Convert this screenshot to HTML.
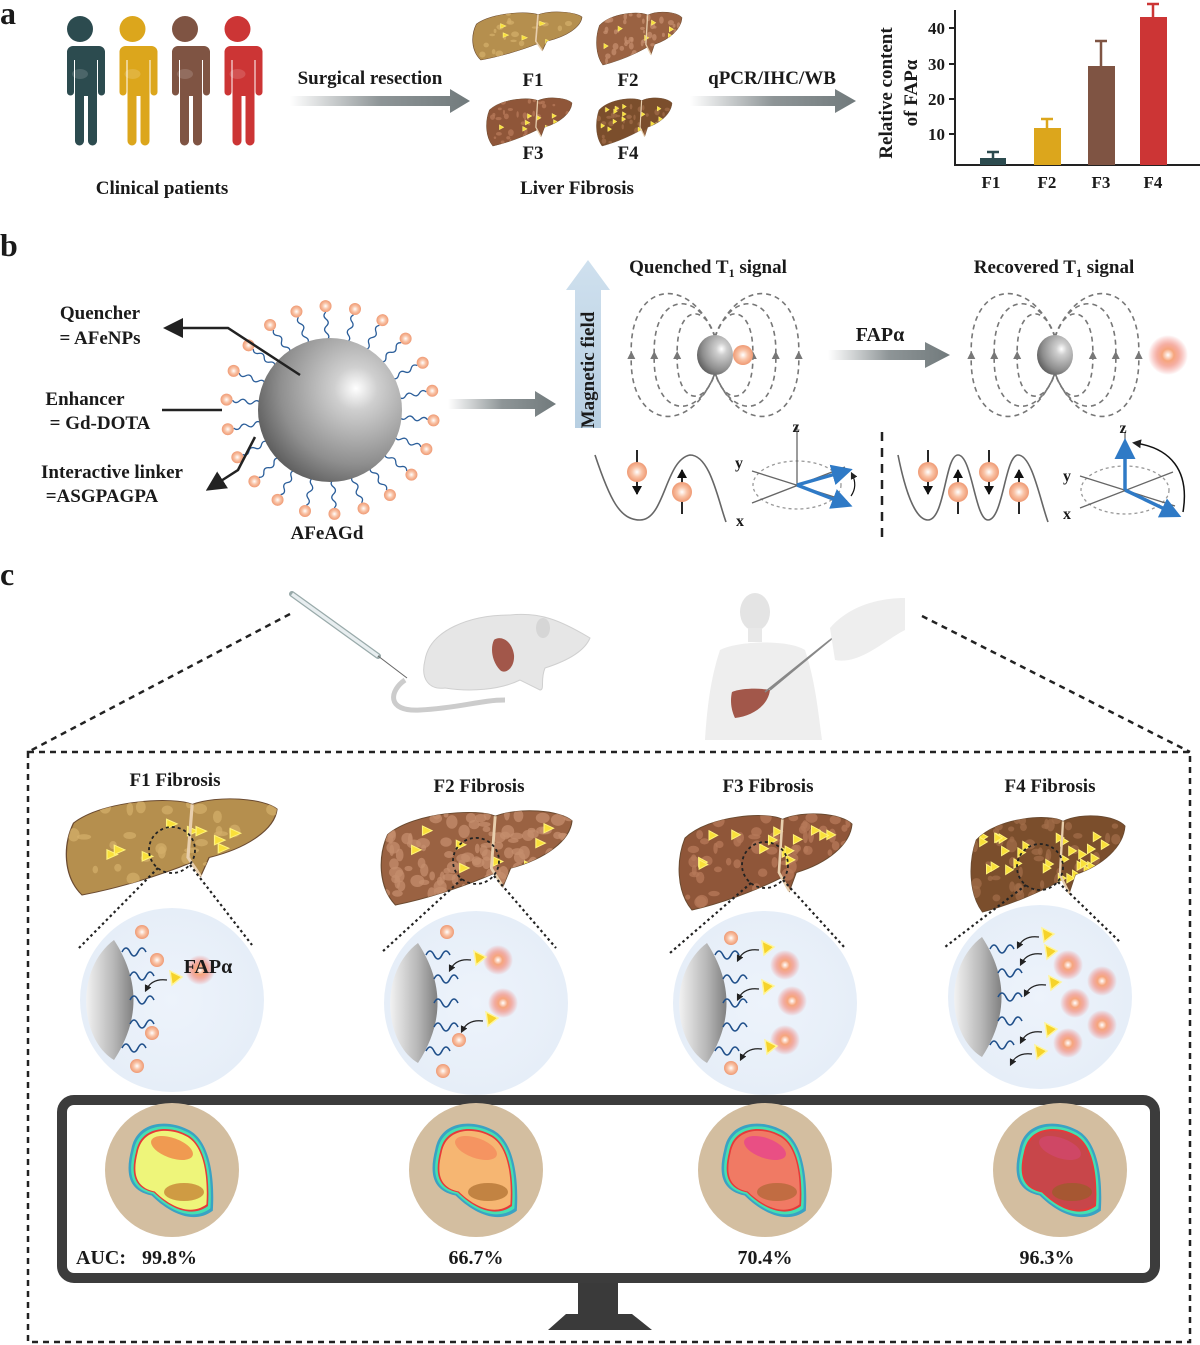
<!DOCTYPE html>
<html><head><meta charset="utf-8">
<style>
html,body{margin:0;padding:0;background:#fff;}
svg{display:block;}
text{font-family:"Liberation Serif",serif;font-weight:bold;fill:#1a1a1a;}
</style></head>
<body>
<svg id="s" width="1200" height="1345" viewBox="0 0 1200 1345" xmlns="http://www.w3.org/2000/svg">
<defs id="defs">
<radialGradient id="sph" cx="0.68" cy="0.35" r="0.75"><stop offset="0" stop-color="#ffffff"/><stop offset="0.2" stop-color="#cfcfcf"/><stop offset="0.7" stop-color="#8f8f8f"/><stop offset="1" stop-color="#5a5a5a"/></radialGradient>
<radialGradient id="bead" cx="0.5" cy="0.5" r="0.5"><stop offset="0" stop-color="#fff"/><stop offset="0.5" stop-color="#f9c3a6"/><stop offset="1" stop-color="#ef9a74"/></radialGradient>
<radialGradient id="glow" cx="0.5" cy="0.5" r="0.5"><stop offset="0" stop-color="#fff"/><stop offset="0.3" stop-color="#f6a57c"/><stop offset="0.55" stop-color="#f39a8a" stop-opacity="0.8"/><stop offset="1" stop-color="#f08080" stop-opacity="0"/></radialGradient>
<linearGradient id="arr" x1="0" x2="1"><stop offset="0" stop-color="#ffffff"/><stop offset="0.5" stop-color="#8e9597"/><stop offset="1" stop-color="#717a7c"/></linearGradient>
<linearGradient id="lens" x1="0" x2="1"><stop offset="0" stop-color="#f2f2f2"/><stop offset="0.6" stop-color="#b5b5b5"/><stop offset="1" stop-color="#808080"/></linearGradient>
<linearGradient id="mf" x1="0" y1="1" x2="0" y2="0"><stop offset="0" stop-color="#b7cfe2"/><stop offset="1" stop-color="#cfe0ee"/></linearGradient>
<radialGradient id="bgc"><stop offset="0" stop-color="#edf3fb"/><stop offset="1" stop-color="#e6eef8"/></radialGradient>
<marker id="ah" markerWidth="8" markerHeight="8" refX="6" refY="4" orient="auto"><path d="M0,0 L8,4 L0,8 Z" fill="#222"/></marker>
<marker id="ahb" markerWidth="6" markerHeight="6" refX="4" refY="3" orient="auto"><path d="M0,0 L6,3 L0,6 Z" fill="#2f7ac6"/></marker>
<marker id="ahs" markerWidth="6" markerHeight="6" refX="4" refY="3" orient="auto"><path d="M0,0 L6,3 L0,6 Z" fill="#222"/></marker>
<clipPath id="lclip"><path d="M4,18 C18,3 52,1 60,6 C72,0 94,2 100,9 C99,22 86,34 68,40 L64,52 L60,43 C44,52 24,60 8,64 C-1,52 -1,32 4,18 Z"/></clipPath>
</defs>

<!-- ===== a ===== -->
<text x="0" y="24" font-size="32">a</text>
<g id="people"></g>
<text x="162" y="194" font-size="19" text-anchor="middle">Clinical patients</text>
<text x="370" y="84" font-size="19" text-anchor="middle">Surgical resection</text>
<path d="M290,96 L450,96 L450,89 L470,101 L450,113 L450,106 L290,106 Z" fill="url(#arr)"/>
<g id="livA"></g>
<text x="533" y="86" font-size="19" text-anchor="middle">F1</text>
<text x="628" y="86" font-size="19" text-anchor="middle">F2</text>
<text x="533" y="159" font-size="19" text-anchor="middle">F3</text>
<text x="628" y="159" font-size="19" text-anchor="middle">F4</text>
<text x="577" y="194" font-size="19" text-anchor="middle">Liver Fibrosis</text>
<text x="772" y="84" font-size="19" text-anchor="middle">qPCR/IHC/WB</text>
<path d="M690,96 L835,96 L835,89 L856,101 L835,113 L835,106 L690,106 Z" fill="url(#arr)"/>
<g stroke="#222" stroke-width="2" fill="none">
<path d="M955,10 L955,165 L1200,165"/>
<path d="M955,28 h-6 M955,64 h-6 M955,99 h-6 M955,134 h-6"/>
</g>
<g font-size="17" text-anchor="end">
<text x="945" y="34">40</text><text x="945" y="70">30</text><text x="945" y="105">20</text><text x="945" y="140">10</text>
</g>
<text transform="translate(892,93) rotate(-90)" font-size="19" text-anchor="middle">Relative content</text>
<text transform="translate(917,93) rotate(-90)" font-size="19" text-anchor="middle">of  FAPα</text>
<g stroke-width="2.5">
<path d="M993,158 V152 M987,152 h12" stroke="#2c4b4f"/>
<path d="M1047,128 V119 M1041,119 h12" stroke="#dca61c"/>
<path d="M1101,66 V41 M1095,41 h12" stroke="#7f5443"/>
<path d="M1153,17 V4 M1147,4 h12" stroke="#cc3535"/>
</g>
<rect x="980" y="158" width="26" height="7" fill="#2c4b4f"/>
<rect x="1034" y="128" width="27" height="37" fill="#dca61c"/>
<rect x="1088" y="66" width="27" height="99" fill="#7f5443"/>
<rect x="1140" y="17" width="27" height="148" fill="#cc3535"/>
<g font-size="17" text-anchor="middle">
<text x="991" y="188">F1</text><text x="1047" y="188">F2</text><text x="1101" y="188">F3</text><text x="1153" y="188">F4</text>
</g>

<!-- ===== b ===== -->
<text x="0" y="256" font-size="32">b</text>
<g id="nano"></g>
<text x="100" y="319" font-size="19" text-anchor="middle">Quencher</text>
<text x="100" y="344" font-size="19" text-anchor="middle">= AFeNPs</text>
<text x="85" y="405" font-size="19" text-anchor="middle">Enhancer</text>
<text x="100" y="429" font-size="19" text-anchor="middle">= Gd-DOTA</text>
<text x="112" y="478" font-size="19" text-anchor="middle">Interactive linker</text>
<text x="102" y="502" font-size="19" text-anchor="middle">=ASGPAGPA</text>
<text x="327" y="539" font-size="19" text-anchor="middle">AFeAGd</text>
<g stroke="#222" stroke-width="2.5" fill="none">
<path d="M300,375 L228,328 L168,328" marker-end="url(#ah)"/>
<path d="M162,410 L222,410"/>
<path d="M255,437 L238,470 L210,488" marker-end="url(#ah)"/>
</g>
<path d="M448,399 L535,399 L535,391 L556,404 L535,417 L535,409 L448,409 Z" fill="url(#arr)"/>
<path d="M575,428 L575,290 L566,290 L588,260 L610,290 L601,290 L601,428 Z" fill="url(#mf)"/>
<text transform="translate(594,370) rotate(-90)" font-size="19" text-anchor="middle">Magnetic field</text>
<text x="708" y="273" font-size="19" text-anchor="middle">Quenched T<tspan font-size="12" dy="4">1</tspan><tspan dy="-4"> signal</tspan></text>
<text x="1054" y="273" font-size="19" text-anchor="middle">Recovered T<tspan font-size="12" dy="4">1</tspan><tspan dy="-4"> signal</tspan></text>
<g id="field"></g>
<text x="880" y="341" font-size="20" text-anchor="middle">FAPα</text>
<path d="M828,350 L925,350 L925,342 L950,355 L925,368 L925,360 L828,360 Z" fill="url(#arr)"/>
<g id="spin"></g>
<path d="M882,432 V537" stroke="#222" stroke-width="2.5" stroke-dasharray="9,7"/>

<!-- ===== c ===== -->
<text x="0" y="585" font-size="32">c</text>
<g id="animals"></g>
<g stroke="#222" stroke-width="2.5" fill="none" stroke-dasharray="6,5">
<path d="M290,614 L28,752"/>
<path d="M922,616 L1190,752"/>
<path d="M28,752 H1190 V1342 H28 Z"/>
</g>
<text x="175" y="786" font-size="19" text-anchor="middle">F1 Fibrosis</text>
<text x="479" y="792" font-size="19" text-anchor="middle">F2 Fibrosis</text>
<text x="768" y="792" font-size="19" text-anchor="middle">F3 Fibrosis</text>
<text x="1050" y="792" font-size="19" text-anchor="middle">F4 Fibrosis</text>
<g id="stages"></g>
<text x="208" y="973" font-size="20" text-anchor="middle">FAPα</text>
<rect x="578" y="1282" width="40" height="34" fill="#3a3a3a"/>
<path d="M548,1330 L566,1314 L632,1314 L652,1330 Z" fill="#3a3a3a"/>
<rect x="62" y="1100" width="1093" height="178" rx="12" fill="#fff" stroke="#3c3c3c" stroke-width="10"/>
<g id="scans"></g>
<text x="76" y="1264" font-size="20">AUC:</text>
<text x="142" y="1264" font-size="20">99.8%</text>
<text x="476" y="1264" font-size="20" text-anchor="middle">66.7%</text>
<text x="765" y="1264" font-size="20" text-anchor="middle">70.4%</text>
<text x="1047" y="1264" font-size="20" text-anchor="middle">96.3%</text>
</svg>
<script>
const NS="http://www.w3.org/2000/svg";
function el(p,t,a){const e=document.createElementNS(NS,t);for(const k in a)e.setAttribute(k,a[k]);p.appendChild(e);return e;}
function g(id){return document.getElementById(id);}
const pc=["#2c4b4f","#dca61c","#7f5443","#cc3535"];
pc.forEach((c,i)=>{const x=80+i*52.5,P=g("people");
 el(P,"circle",{cx:x,cy:29,r:13,fill:c});
 el(P,"path",{d:`M${x-19},46 h38 a6,6 0 0 1 6,6 v40 a3.5,3.5 0 0 1 -7,0 v-32 h-1 v81 a4.5,4.5 0 0 1 -9,0 v-45 h-4 v45 a4.5,4.5 0 0 1 -9,0 v-81 h-1 v32 a3.5,3.5 0 0 1 -7,0 v-40 a6,6 0 0 1 6,-6 z`,fill:c});
 el(P,"ellipse",{cx:x,cy:74,rx:8,ry:5,fill:"#fff",opacity:0.15});
});
const LP="M4,18 C18,3 52,1 60,6 C72,0 94,2 100,9 C99,22 86,34 68,40 L64,52 L60,43 C44,52 24,60 8,64 C-1,52 -1,32 4,18 Z";
function rnd(s){return function(){s=(s*9301+49297)%233280;return s/233280;}}
function liver(P,x,y,w,h,col,spot,nspot,ntri,seed){
 const r=rnd(seed);const G=el(P,"g",{transform:`translate(${x},${y}) scale(${w/100},${h/64})`});
 el(G,"path",{d:LP,fill:col,stroke:"#6a4a30","stroke-width":0.6});
 const C=el(G,"g",{"clip-path":"url(#lclip)"});
 for(let i=0;i<nspot;i++){const a=r()*96+3,b=r()*56+4;el(C,"ellipse",{cx:a,cy:b,rx:1.2+r()*2.5,ry:1.5+r()*3,fill:spot,opacity:0.75});}
 for(let i=0;i<ntri;i++){const a=r()*80+6,b=r()*30+10;el(C,"path",{d:`M${a},${b} l5,3 l-5,3 z`,fill:"#f9e03a",stroke:"#fff27a","stroke-width":0.6});}
 el(G,"path",{d:"M60,6 L58,40 L64,52",stroke:"#e8cfae","stroke-width":1.5,fill:"none"});
}
const LA=g("livA");
liver(LA,472,10,110,50,"#b58f4e","#d3ad6a",25,6,3);
liver(LA,596,10,86,55,"#9a6242","#c48d6e",60,6,5);
liver(LA,486,96,86,50,"#8f5639","#b77a5a",40,8,7);
liver(LA,596,96,76,50,"#7b4e2c","#a06c48",40,16,9);
const N=g("nano");const cx=330,cy=410;
for(let i=0;i<22;i++){const a=i/22*Math.PI*2+0.1;const r1=70,r2=98;
 const x1=cx+r1*Math.cos(a),y1=cy+r1*Math.sin(a),x2=cx+r2*Math.cos(a),y2=cy+r2*Math.sin(a);
 const nx=-Math.sin(a)*4,ny=Math.cos(a)*4;let d=`M${x1},${y1}`;
 for(let k=1;k<=4;k++){const t=k/4;const s=k%2?1:-1;d+=` Q${x1+(x2-x1)*(t-0.125)+nx*s},${y1+(y2-y1)*(t-0.125)+ny*s} ${x1+(x2-x1)*t},${y1+(y2-y1)*t}`;}
 el(N,"path",{d:d,stroke:"#2b5e9a","stroke-width":1.3,fill:"none"});
 el(N,"circle",{cx:cx+(r2+6)*Math.cos(a),cy:cy+(r2+6)*Math.sin(a),r:6,fill:"url(#bead)"});
}
el(N,"circle",{cx:cx,cy:cy,r:72,fill:"url(#sph)"});
const F=g("field");
function field(sx,sy,bead){
 [[62,46],[45,38],[28,30]].forEach(([w,hh])=>{[-1,1].forEach(s=>{
  el(F,"path",{d:`M${sx},${sy-18} C${sx+s*w*0.4},${sy-hh*1.8} ${sx+s*w*1.4},${sy-hh*1.6} ${sx+s*w*1.35},${sy} C${sx+s*w*1.4},${sy+hh*1.6} ${sx+s*w*0.4},${sy+hh*1.8} ${sx},${sy+18}`,stroke:"#777",fill:"none","stroke-width":1.6,"stroke-dasharray":"5,4"});
  el(F,"path",{d:`M${sx+s*w*1.35-4},${sy+4} l4,-8 l4,8 z`,fill:"#777"});
 });});
 el(F,"ellipse",{cx:sx,cy:sy,rx:18,ry:20,fill:"url(#sph)"});
 if(bead)el(F,"circle",{cx:sx+28,cy:sy,r:10,fill:"url(#bead)"});
}
field(715,355,true);field(1055,355,false);
el(F,"circle",{cx:1168,cy:355,r:20,fill:"url(#glow)"});
const S=g("spin");
function axes(ox,oy,blue){
 el(S,"ellipse",{cx:ox,cy:oy,rx:44,ry:24,fill:"none",stroke:"#999","stroke-dasharray":"3,3","stroke-width":1.3});
 el(S,"path",{d:`M${ox},${oy} V${oy-58} M${ox-45},${oy-14} L${ox+50},${oy+16} M${ox-45},${oy+18} L${ox+48},${oy-18}`,stroke:"#666","stroke-width":1.3,fill:"none"});
 blue.forEach(d=>el(S,"path",{d:d,stroke:"#2f7ac6","stroke-width":3.5,fill:"none","marker-end":"url(#ahb)"}));
}
el(S,"path",{d:"M595,455 C610,500 620,520 640,520 C665,520 665,460 690,455 C710,455 718,500 726,522",stroke:"#666","stroke-width":1.6,fill:"none"});
function spins(arr){arr.forEach(([x,y,d])=>{el(S,"path",{d:`M${x},${y-22} V${y+22}`,stroke:"#111","stroke-width":1.8});el(S,"path",{d:d>0?`M${x-5},${y+14} l5,9 l5,-9z`:`M${x-5},${y-14} l5,-9 l5,9z`,fill:"#111"});el(S,"circle",{cx:x,cy:y,r:10,fill:"url(#bead)"});});}
spins([[637,472,1],[682,492,-1]]);
axes(797,485,["M797,485 L846,471","M797,485 L846,504"]);
el(S,"path",{d:"M851,496 Q858,486 852,474",stroke:"#111","stroke-width":1.2,fill:"none","marker-end":"url(#ahs)"});
el(S,"path",{d:"M898,455 C905,490 915,520 928,520 C945,520 945,455 958,455 C972,455 975,520 988,520 C1003,520 1005,455 1018,455 C1032,455 1040,500 1048,522",stroke:"#666","stroke-width":1.6,fill:"none"});
spins([[928,472,1],[958,492,-1],[989,472,1],[1019,492,-1]]);
axes(1125,490,["M1125,490 V445","M1125,490 L1175,514"]);
el(S,"path",{d:"M1183,512 C1190,470 1170,448 1135,443",stroke:"#111","stroke-width":1.5,fill:"none","marker-end":"url(#ahs)"});
[["z",796,432],["y",739,468],["x",740,526],["z",1123,433],["y",1067,481],["x",1067,519]].forEach(([t,x,y])=>{const e=el(S,"text",{x:x,y:y,"font-size":16,"text-anchor":"middle"});e.textContent=t;});
const A=g("animals");
el(A,"path",{d:"M292,594 L378,656",stroke:"#9aa","stroke-width":6,"stroke-linecap":"round"});
el(A,"path",{d:"M292,594 L378,656",stroke:"#e8eef0","stroke-width":3.5});
el(A,"path",{d:"M378,656 L407,678",stroke:"#666","stroke-width":1});
el(A,"path",{d:"M405,680 C390,690 385,712 420,710 C460,708 480,700 505,700",stroke:"#ccc","stroke-width":5,fill:"none"});
el(A,"path",{d:"M425,660 C430,630 470,615 510,615 C540,612 560,620 590,638 C585,650 570,660 545,668 C540,680 545,690 540,690 L520,680 C500,690 470,692 445,688 C430,690 420,680 425,660Z",fill:"#e6e6e6",stroke:"#d0d0d0"});
el(A,"ellipse",{cx:543,cy:628,rx:7,ry:10,fill:"#d6d6d6"});
el(A,"path",{d:"M494,640 C500,635 512,640 514,655 C515,668 505,675 500,670 C492,662 490,648 494,640Z",fill:"#a2574a"});
el(A,"path",{d:"M720,650 C740,640 790,640 805,650 C815,680 818,710 822,740 L705,740 C707,710 710,680 720,650Z",fill:"#eeeeee"});
el(A,"ellipse",{cx:755,cy:612,rx:15,ry:19,fill:"#e4e4e4"});
el(A,"rect",{x:748,y:628,width:14,height:14,fill:"#e8e8e8"});
el(A,"path",{d:"M732,692 C742,688 760,688 770,690 C768,706 752,716 735,718 C731,710 730,700 732,692Z",fill:"#a2574a"});
el(A,"path",{d:"M765,692 L830,640 M770,690 L835,636",stroke:"#888","stroke-width":1.5});
el(A,"path",{d:"M830,628 C850,605 880,598 905,598 L905,630 C885,640 860,665 835,660 Z",fill:"#eeeeee"});
const ST=g("stages");
const stg=[{lx:65,ly:795,lw:212,lh:100,col:"#b58f4e",sp:"#d3ad6a",ns:35,nt:9,cx:172,cy:1000},
{lx:380,ly:807,lw:192,lh:98,col:"#9a6242",sp:"#c48d6e",ns:120,nt:11,cx:476,cy:1003},
{lx:678,ly:810,lw:174,lh:100,col:"#8f5639",sp:"#b77a5a",ns:70,nt:14,cx:765,cy:1003},
{lx:970,ly:812,lw:155,lh:100,col:"#7b4e2c",sp:"#a06c48",ns:60,nt:30,cx:1040,cy:997}];
const glows={0:[[200,970]],1:[[498,960],[503,1003]],2:[[785,965],[792,1001],[785,1040]],3:[[1068,965],[1102,981],[1075,1003],[1102,1025],[1068,1043]]};
const beads={0:[[142,932],[157,960],[152,1033],[137,1066]],1:[[447,932],[459,1040],[443,1071]],2:[[731,938],[731,1068]],3:[]};
const tris={0:[[170,978]],1:[[474,958],[486,1019]],2:[[762,948],[762,987],[765,1047]],3:[[1042,935],[1045,952],[1049,983],[1045,1030],[1035,1052]]};
stg.forEach((s,i)=>{
 el(ST,"circle",{cx:s.cx,cy:s.cy,r:92,fill:"url(#bgc)"});
 liver(ST,s.lx,s.ly,s.lw,s.lh,s.col,s.sp,s.ns,s.nt,11+i*7);
 const zx=s.cx,zy=s.ly+s.lh*0.55;
 el(ST,"circle",{cx:zx,cy:zy,r:23,fill:"none",stroke:"#222","stroke-width":1.8,"stroke-dasharray":"3,3"});
 el(ST,"path",{d:`M${zx-14},${zy+18} L${s.cx-95},${s.cy-50} M${zx+18},${zy+15} L${s.cx+80},${s.cy-55}`,stroke:"#222","stroke-width":2.2,"stroke-dasharray":"2.5,3"});
 const lx=s.cx-92,top=s.cy-60,bot=s.cy+60;
 el(ST,"path",{d:`M${lx+34},${top} C${lx+60},${s.cy-20} ${lx+60},${s.cy+20} ${lx+34},${bot} C${lx},${s.cy+40} ${lx-6},${s.cy-30} ${lx+34},${top}Z`,fill:"url(#lens)"});
 for(let k=0;k<5;k++){const y=top+12+k*24;const x=lx+48+(k==0||k==4?-6:2);
  el(ST,"path",{d:`M${x},${y} q4,-8 8,0 t8,0 t8,0`,stroke:"#1f4f8a","stroke-width":1.6,fill:"none"});}
 beads[i].forEach(([x,y])=>el(ST,"circle",{cx:x,cy:y,r:7,fill:"url(#bead)"}));
 glows[i].forEach(([x,y])=>el(ST,"circle",{cx:x,cy:y,r:15,fill:"url(#glow)"}));
 tris[i].forEach(([x,y])=>{el(ST,"path",{d:`M${x},${y-7} l12,6 l-10,8 z`,fill:"#f6d32a",stroke:"#fff59a","stroke-width":1.5});
   el(ST,"path",{d:`M${x-3},${y+2} Q${x-18},${y} ${x-24},${y+12}`,stroke:"#222","stroke-width":1.2,fill:"none","marker-end":"url(#ahs)"});});
});
const SC=g("scans");
const scanC=[[172,1170,"#eef57a","#f08a4a","#c98b3a"],[476,1170,"#f6b672","#f48e5e","#b87a3a"],[765,1170,"#f07a64","#e8488a","#b86a3c"],[1060,1170,"#c8464a","#d0486a","#a05a2e"]];
scanC.forEach(([x,y,f,a,b])=>{
 el(SC,"circle",{cx:x,cy:y,r:67,fill:"#d3bea0"});
 const d=(k)=>`M${x-40*k},${y-20*k} C${x-35*k},${y-48*k} ${x-5*k},${y-50*k} ${x+15*k},${y-40*k} C${x+38*k},${y-30*k} ${x+42*k},${y+10*k} ${x+40*k},${y+40*k} C${x+20*k},${y+55*k} ${x-5*k},${y+40*k} ${x-20*k},${y+25*k} C${x-45*k},${y+20*k} ${x-45*k},${y}  ${x-40*k},${y-20*k}Z`;
 el(SC,"path",{d:d(1.02),fill:"#3aa2c4"});
 el(SC,"path",{d:d(0.96),fill:"#46e0b0"});
 el(SC,"path",{d:d(0.9),fill:"#e63a3a"});
 el(SC,"path",{d:d(0.86),fill:f});
 el(SC,"ellipse",{cx:x,cy:y-22,rx:22,ry:10,fill:a,opacity:0.85,transform:`rotate(20 ${x} ${y-22})`});
 el(SC,"ellipse",{cx:x+12,cy:y+22,rx:20,ry:9,fill:b,opacity:0.85});
});
</script>
</body></html>
